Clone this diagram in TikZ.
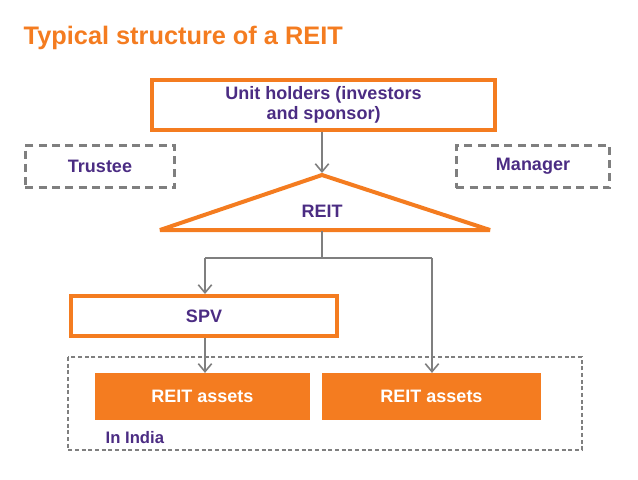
\documentclass[tikz,border=0pt]{standalone}
\usepackage{fontspec}
\setmainfont{Liberation Sans}
\usetikzlibrary{arrows.meta,shapes.geometric}
\definecolor{reitorange}{HTML}{F47C20}
\definecolor{reitpurple}{HTML}{4B2C83}
\definecolor{reitgray}{HTML}{7F7F7F}
\tikzset{
  box/.style    = {draw=reitorange, line width=3pt, rectangle, text=reitpurple, font=\bfseries\fontsize{13.5}{15}\selectfont, align=center},
  party/.style  = {draw=reitgray, line width=2.2pt, dash pattern=on 6pt off 4pt, rectangle, text=reitpurple, font=\bfseries\fontsize{13.5}{15}\selectfont},
  asset/.style  = {fill=reitorange, rectangle, text=white, font=\bfseries\fontsize{13.5}{15}\selectfont},
  link/.style   = {draw=reitgray, line width=1.2pt, -{Straight Barb[length=6pt,width=10pt]}}
}
\begin{document}
\begin{tikzpicture}[x=0.75pt, y=-0.75pt]
\useasboundingbox (0,0) rectangle (638,479);

% Title
\node [anchor=west, text=reitorange, font=\bfseries\fontsize{19}{21}\selectfont] (title) at (19,38) {Typical structure of a REIT};

% Top level
\node [box, minimum width=257pt, minimum height=37pt] (holders) at (323.5,105) {Unit holders (investors\\and sponsor)};
\node [party, minimum width=112pt, minimum height=32pt] (trustee) at (100,166.5) {Trustee};
\node [party, minimum width=115pt, minimum height=32pt] (manager) at (533,166.5) {Manager};

% REIT triangle
\draw [draw=reitorange, line width=3pt, line join=bevel] (322,175) -- (490,230) -- (160,230) -- cycle;
\node [text=reitpurple, font=\bfseries\fontsize{13.5}{15}\selectfont] (reit) at (322,211) {REIT};
\coordinate (apex) at (322,173);
\coordinate (base) at (322,231);

% Lower level
\node [box, minimum width=200pt, minimum height=30pt] (spv) at (204,316) {SPV};
\draw [draw=reitgray, line width=0.8pt, dash pattern=on 3pt off 2pt] (68,357) rectangle (582,450);
\node [asset, minimum width=161pt, minimum height=35pt] (asset1) at (202.5,396.5) {REIT assets};
\node [asset, minimum width=164pt, minimum height=35pt] (asset2) at (431.5,396.5) {REIT assets};
\node [anchor=west, text=reitpurple, font=\bfseries\fontsize{12.5}{14}\selectfont] (india) at (101,438) {In India};

% Connections
\coordinate (split) at (322,258);
\coordinate (left) at (205,258);
\coordinate (right) at (432,258);
\draw [link] (holders.south -| apex) -- (apex);
\draw [draw=reitgray, line width=1.2pt] (base) -- (split) -- (left) (split) -- (right);
\draw [link] (left) -- (spv.north -| left);
\draw [link] (right) -- (asset2.north -| right);
\draw [link] (spv.south -| left) -- (asset1.north -| left);

\end{tikzpicture}
\end{document}
